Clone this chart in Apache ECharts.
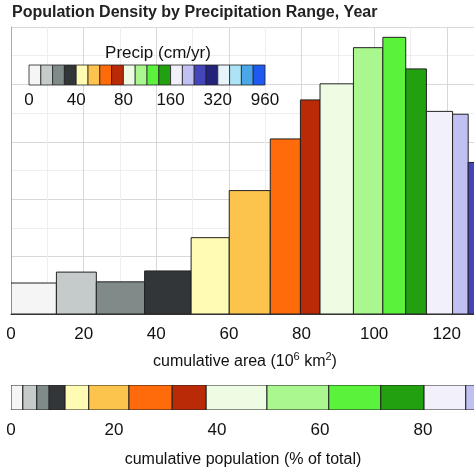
<!DOCTYPE html>
<html><head><meta charset="utf-8">
<script src="https://cdn.jsdelivr.net/npm/echarts@6/dist/echarts.min.js"></script>
<style>html,body{margin:0;padding:0;background:#fff}#c{width:474px;height:474px}</style>
</head><body><div id="c"></div>
<script>
// Histogram: cumulative area edges (10^6 km^2) and population density (relative units)
const areaStart = [0, 12.5, 23.5, 36.8, 49.6, 60.1, 71.4, 79.7, 85.1, 94.3, 102.4, 108.7, 114.4, 121.6, 125.9];
const areaEnd   = [12.5, 23.5, 36.8, 49.6, 60.1, 71.4, 79.7, 85.1, 94.3, 102.4, 108.7, 114.4, 121.6, 125.9, 131];
const density   = [0.54, 0.73, 0.56, 0.75, 1.33, 2.15, 3.05, 3.73, 4.01, 4.64, 4.82, 4.27, 3.53, 3.48, 2.64];
// Cumulative population segments (% of total)
const popStart = [0, 2.3, 5.0, 7.4, 10.5, 15.1, 22.9, 31.3, 37.9, 49.7, 61.7, 71.8, 80.2, 88.3];
const popEnd   = [2.3, 5.0, 7.4, 10.5, 15.1, 22.9, 31.3, 37.9, 49.7, 61.7, 71.8, 80.2, 88.3, 95];
const legendTicks = ['0', '40', '80', '160', '320', '960'];
const palette = ['#f5f5f5','#c5cacb','#7f8a89','#323638','#fffbb5','#fcc44c','#ff6a0b','#bb2a07',
 '#effce4','#a9f78e','#5bf23c','#22a010','#f2f1fb','#c0c0f2','#4444bb','#23237a',
 '#e8f4fb','#aee3f5','#4aa8e8','#1e5af0'];

const F = 'Liberation Sans, Arial, sans-serif';
const chart = echarts.init(document.getElementById('c'));
function rect(params, api) {
  const s = api.coord([api.value(0), api.value(2)]);
  const e = api.coord([api.value(1), 0]);
  return {type:'rect', shape:{x:s[0], y:s[1], width:e[0]-s[0], height:e[1]-s[1]},
    style:{fill: palette[api.value(3)], stroke:'#222', lineWidth:1}};
}
const histData = density.map((d,i)=>[areaStart[i], areaEnd[i], d, i]);
const popData = popStart.map((s,i)=>[s, popEnd[i], 1, i]);

const legendX0 = 29, legendW = 11.8, legendY = 65, legendH = 20;
const graphics = [];
palette.forEach((c,i)=>graphics.push({type:'rect', z:100,
  shape:{x:legendX0+i*legendW, y:legendY, width:legendW, height:legendH},
  style:{fill:c, stroke:'#222', lineWidth:0.8}}));
legendTicks.forEach((t,i)=>graphics.push({type:'text', z:100, x:legendX0+i*4*legendW, y:100,
  style:{text:t, font:'17px '+F, fill:'#111', align:'center', verticalAlign:'middle'}}));
graphics.push({type:'text', z:100, x:158, y:53, style:{text:'Precip (cm/yr)', font:'17px '+F, fill:'#111', align:'center', verticalAlign:'middle'}});
graphics.push({type:'text', z:100, x:12, y:13, style:{text:'Population Density by Precipitation Range, Year', font:'bold 16px '+F, fill:'#222', verticalAlign:'middle'}});
graphics.push({type:'text', z:100, x:245, y:362, style:{
  text:'{a|cumulative area (10}{s|6}{a| km}{s|2}{a|)}',
  rich:{a:{font:'16px '+F, fill:'#111'}, s:{font:'11px '+F, fill:'#111', verticalAlign:'top', padding:[0,0,10,0]}},
  align:'center', verticalAlign:'middle'}});
graphics.push({type:'text', z:100, x:243, y:460, style:{text:'cumulative population (% of total)', font:'16px '+F, fill:'#111', align:'center', verticalAlign:'middle'}});

chart.setOption({
  animation:false,
  backgroundColor:'#fff',
  grid:[{left:11, right:0, top:27, bottom:160},
        {left:11, right:0, top:385, bottom:64}],
  xAxis:[
    {gridIndex:0, type:'value', min:0, max:127.5, interval:20,
     axisLine:{lineStyle:{color:'#333'}}, axisTick:{show:false},
     axisLabel:{fontSize:17, fontFamily:F, color:'#111', margin:12, showMaxLabel:false},
     splitLine:{lineStyle:{color:'#d8d8d8'}},
     minorTick:{show:false, splitNumber:2}, minorSplitLine:{show:true, lineStyle:{color:'#eeeeee'}}},
    {gridIndex:1, type:'value', min:0, max:89.9, interval:20,
     axisLine:{show:false}, axisTick:{show:false},
     axisLabel:{fontSize:17, fontFamily:F, color:'#111', margin:12, showMaxLabel:false},
     splitLine:{show:false}}
  ],
  yAxis:[
    {gridIndex:0, type:'value', min:0, max:5, interval:1,
     axisLine:{show:true, lineStyle:{color:'#aaa'}}, axisTick:{show:false}, axisLabel:{show:false},
     splitLine:{lineStyle:{color:'#d8d8d8'}},
     minorTick:{show:false, splitNumber:2}, minorSplitLine:{show:true, lineStyle:{color:'#eeeeee'}}},
    {gridIndex:1, type:'value', min:0, max:1, show:false}
  ],
  series:[
    {type:'custom', xAxisIndex:0, yAxisIndex:0, renderItem:rect, data:histData, clip:true},
    {type:'custom', xAxisIndex:1, yAxisIndex:1, renderItem:rect, data:popData, clip:true}
  ],
  graphic:graphics
});
</script></body></html>
